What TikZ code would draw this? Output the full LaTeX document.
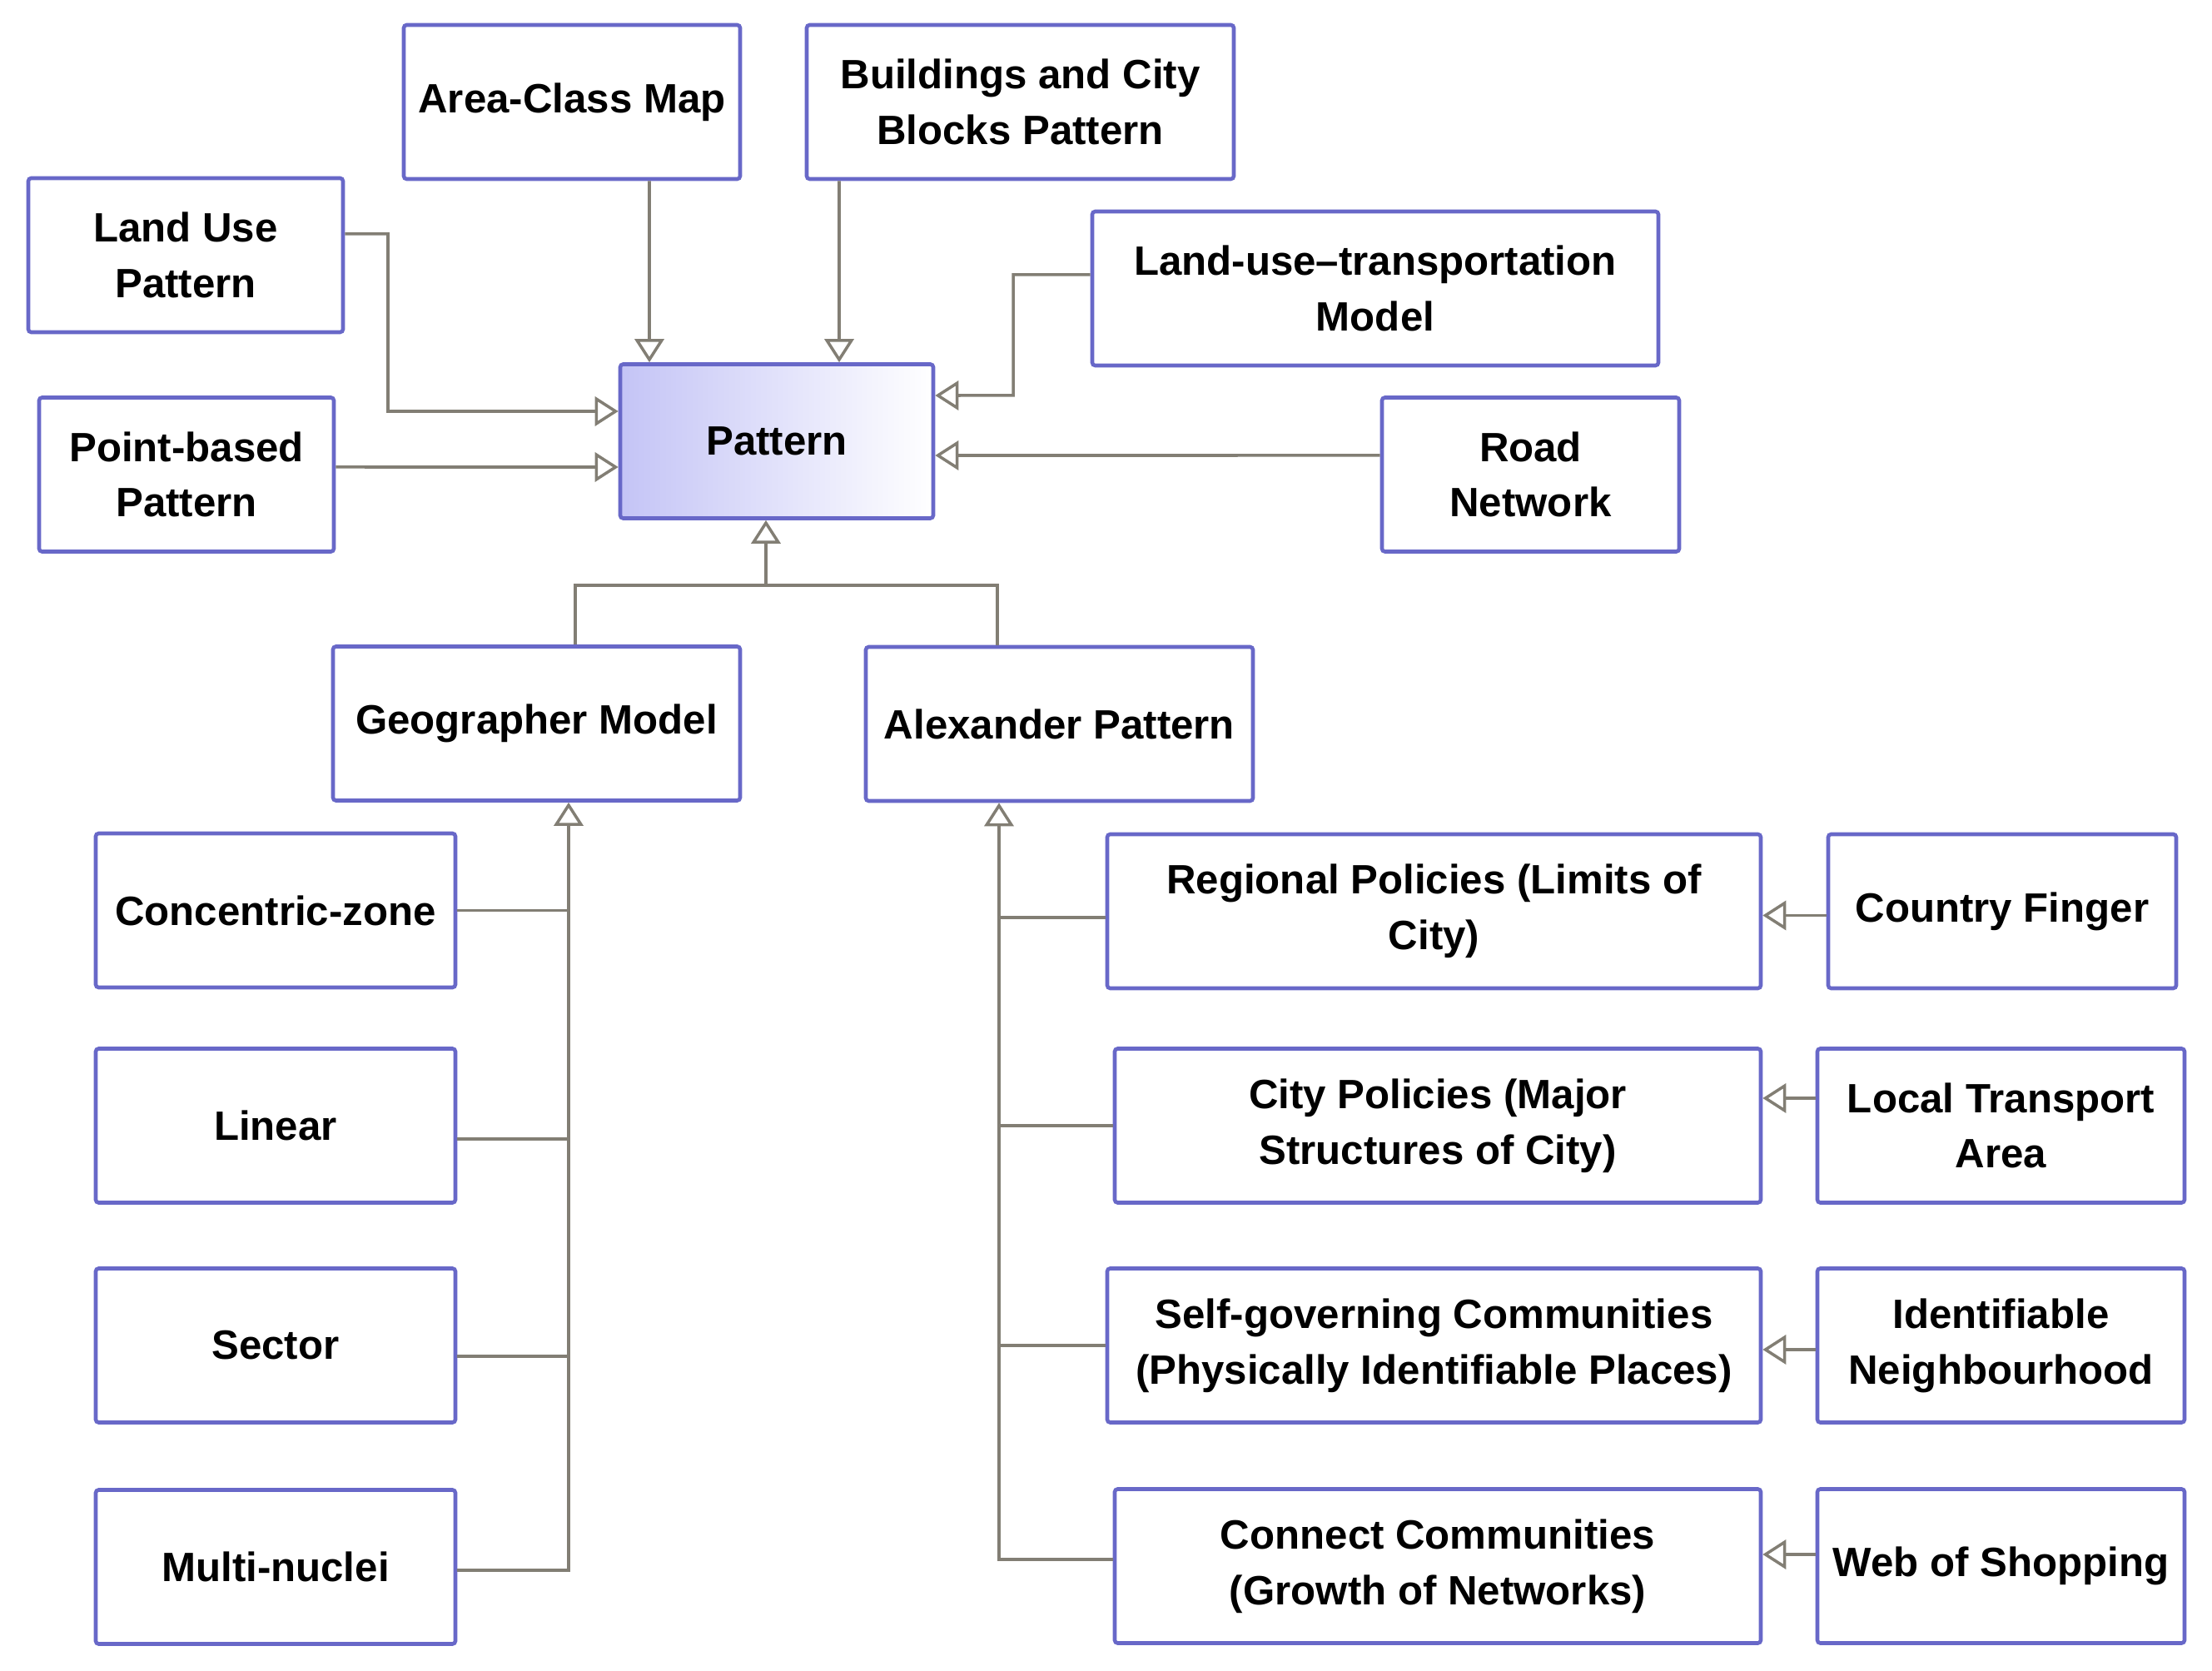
\documentclass[tikz,border=0pt]{standalone}
\usepackage{fontspec}
\setmainfont{Liberation Sans}
\usetikzlibrary{arrows.meta}
\definecolor{boxblue}{RGB}{104,104,200}
\definecolor{linkgray}{RGB}{130,126,116}
\definecolor{patfill}{RGB}{196,196,246}
\tikzset{
  cls/.style={draw=boxblue, line width=1.3pt, rounded corners=1pt, fill=white, align=center, inner sep=0pt, minimum height=1.85cm, font=\bfseries\fontsize{14}{19}\selectfont},
  link/.style={draw=linkgray, line width=1pt},
  gen/.style={link, -{Triangle[open, length=8pt, width=10pt]}}
}
\begin{document}
\begin{tikzpicture}
  \useasboundingbox[fill=white] (0,0) rectangle (26.57,-20.07);

  \node[cls, minimum width=4.04cm] (areaclass) at (6.87,-1.225) {Area-Class Map};
  \node[cls, minimum width=5.13cm] (buildings) at (12.255,-1.225) {Buildings and City\\Blocks Pattern};
  \node[cls, minimum width=3.78cm] (landuse) at (2.23,-3.065) {Land Use\\Pattern};
  \node[cls, minimum width=3.54cm] (pointbased) at (2.24,-5.70) {Point-based\\Pattern};
  \node[cls, minimum width=3.76cm, left color=patfill, right color=white] (pattern) at (9.33,-5.30) {Pattern};
  \node[cls, minimum width=6.80cm] (landtrans) at (16.52,-3.465) {Land-use–transportation\\Model};
  \node[cls, minimum width=3.57cm] (road) at (18.385,-5.70) {Road\\Network};

  \node[cls, minimum width=4.89cm] (geographer) at (6.445,-8.69) {Geographer Model};
  \node[cls, minimum width=4.65cm] (alexander) at (12.725,-8.695) {Alexander Pattern};

  \node[cls, minimum width=4.32cm] (concentric) at (3.31,-10.935) {Concentric-zone};
  \node[cls, minimum width=4.32cm] (linear) at (3.31,-13.52) {Linear};
  \node[cls, minimum width=4.32cm] (sector) at (3.31,-16.16) {Sector};
  \node[cls, minimum width=4.32cm] (multinuclei) at (3.31,-18.82) {Multi-nuclei};

  \node[cls, minimum width=7.85cm] (regional) at (17.225,-10.945) {Regional Policies (Limits of\\City)};
  \node[cls, minimum width=7.76cm] (citypol) at (17.27,-13.52) {City Policies (Major\\Structures of City)};
  \node[cls, minimum width=7.85cm] (selfgov) at (17.225,-16.16) {Self-governing Communities\\(Physically Identifiable Places)};
  \node[cls, minimum width=7.76cm] (connect) at (17.27,-18.81) {Connect Communities\\(Growth of Networks)};

  \node[cls, minimum width=4.18cm] (country) at (24.05,-10.945) {Country Finger};
  \node[cls, minimum width=4.41cm] (localtr) at (24.035,-13.52) {Local Transport\\Area};
  \node[cls, minimum width=4.41cm] (identif) at (24.035,-16.16) {Identifiable\\Neighbourhood};
  \node[cls, minimum width=4.41cm] (webshop) at (24.035,-18.81) {Web of Shopping};

  \coordinate (luk) at (4.66,-4.94);
  \coordinate (ltk) at (12.17,-4.75);
  \coordinate (pj) at (9.20,-7.03);
  \coordinate (gtr) at ([xshift=3.85mm]geographer.south);
  \coordinate (atr) at ([xshift=-7.25mm]alexander.south);

  \draw[gen] ([xshift=9.3mm]areaclass.south) -- ([xshift=-15.3mm]pattern.north);
  \draw[gen] ([xshift=-21.75mm]buildings.south) -- ([xshift=7.5mm]pattern.north);
  \draw[gen] ([yshift=2.55mm]landuse.east) -| (luk) -- ([yshift=3.6mm]pattern.west);
  \draw[gen] ([yshift=0.9mm]pointbased.east) -- ([yshift=-3.1mm]pattern.west);
  \draw[gen] ([yshift=1.65mm]landtrans.west) -| (ltk) -- ([yshift=5.5mm]pattern.east);
  \draw[gen] ([yshift=2.3mm]road.west) -- ([yshift=-1.7mm]pattern.east);

  \draw[gen] (pj) -- ([xshift=-1.3mm]pattern.south);
  \draw[link] ([xshift=4.65mm]geographer.north) |- (pj) -| ([xshift=-7.45mm]alexander.north);

  \draw[gen] ([yshift=-0.4mm]multinuclei.east) -| (gtr);
  \draw[link] (concentric.east) -- (concentric.east -| gtr);
  \draw[link] ([yshift=-1.6mm]linear.east) -- ([yshift=-1.6mm]linear.east -| gtr);
  \draw[link] ([yshift=-1.3mm]sector.east) -- ([yshift=-1.3mm]sector.east -| gtr);

  \draw[gen] ([yshift=0.8mm]connect.west) -| (atr);
  \draw[link] ([yshift=-0.75mm]regional.west) -- ([yshift=-0.75mm]regional.west -| atr);
  \draw[link] (citypol.west) -- (citypol.west -| atr);
  \draw[link] (selfgov.west) -- (selfgov.west -| atr);

  \draw[gen] ([yshift=-0.5mm]country.west) -- ([yshift=-0.5mm]country.west -| regional.east);
  \draw[gen] ([yshift=3.3mm]localtr.west) -- ([yshift=3.3mm]localtr.west -| citypol.east);
  \draw[gen] ([yshift=-0.5mm]identif.west) -- ([yshift=-0.5mm]identif.west -| selfgov.east);
  \draw[gen] ([yshift=1.4mm]webshop.west) -- ([yshift=1.4mm]webshop.west -| connect.east);
\end{tikzpicture}
\end{document}
